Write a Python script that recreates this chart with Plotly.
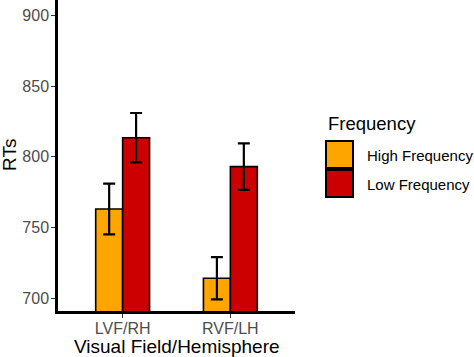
import plotly.graph_objects as go

categories = ["LVF/RH", "RVF/LH"]
high_freq = [763, 714]
high_err = [18, 15]
low_freq = [813.5, 793]
low_err = [17.5, 16.5]
series_names = ["High Frequency", "Low Frequency"]
colors = ["#FFA500", "#CC0000"]
y_ticks = [700, 750, 800, 850, 900]

W, H = 474, 357
L, R, T, B = 58, 179, 0, 46
pw, ph = W - L - R, H - T - B

def px_x(x):
    return (x - L) / pw

def px_y(y):
    return (H - B - y) / ph

fig = go.Figure()
for name, vals, errs, col in [(series_names[0], high_freq, high_err, colors[0]),
                              (series_names[1], low_freq, low_err, colors[1])]:
    fig.add_trace(go.Bar(
        x=[1, 2], y=vals, name=name, marker=dict(color=col, line=dict(color="black", width=1.6)),
        error_y=dict(type="data", array=errs, color="black", thickness=2.2, width=6),
        showlegend=False,
    ))

fig.update_layout(
    width=W, height=H, margin=dict(l=L, r=R, t=T, b=B, autoexpand=False),
    paper_bgcolor="white", plot_bgcolor="white",
    barmode="group", bargap=0.5, bargroupgap=0,
    font=dict(family="Liberation Sans, Arial, sans-serif"),
    xaxis=dict(range=[0.4, 2.6], tickvals=[1, 2], ticktext=categories,
               showline=True, linecolor="black", linewidth=2.5, showgrid=False, zeroline=False,
               ticks="outside", ticklen=4, tickcolor="#333333", tickwidth=1.2,
               tickfont=dict(size=16, color="#4d4d4d"), ticklabelstandoff=-3),
    yaxis=dict(range=[690.8, 911], tickvals=y_ticks,
               showline=True, linecolor="black", linewidth=2.5, showgrid=False, zeroline=False,
               ticks="outside", ticklen=4, tickcolor="#333333", tickwidth=1.2,
               tickfont=dict(size=16, color="#4d4d4d"), ticklabelstandoff=-1),
)

# axis titles
fig.add_annotation(x=px_x(177), y=px_y(346), xref="paper", yref="paper", text="Visual Field/Hemisphere",
                   showarrow=False, xanchor="center", yanchor="middle",
                   font=dict(size=19, color="black"))
fig.add_annotation(x=px_x(9), y=px_y(155), xref="paper", yref="paper", text="RTs", textangle=-90,
                   showarrow=False, xanchor="center", yanchor="middle",
                   font=dict(size=19, color="black"))

# legend drawn manually
fig.add_annotation(x=px_x(326), y=px_y(123), xref="paper", yref="paper", text="Frequency",
                   showarrow=False, xanchor="left", yanchor="middle",
                   font=dict(size=18.5, color="black"))
for i, (name, col) in enumerate(zip(series_names, colors)):
    y0 = 141 + i * 29
    fig.add_shape(type="rect", xref="paper", yref="paper",
                  x0=px_x(326), x1=px_x(353), y0=px_y(y0), y1=px_y(y0 + 27),
                  fillcolor=col, line=dict(color="black", width=2))
    fig.add_annotation(x=px_x(365), y=px_y(y0 + 14), xref="paper", yref="paper", text=name,
                       showarrow=False, xanchor="left", yanchor="middle",
                       font=dict(size=15, color="black"))

fig.write_html("out.html", config={"displayModeBar": False},
               post_script="document.body.style.margin='0';")
